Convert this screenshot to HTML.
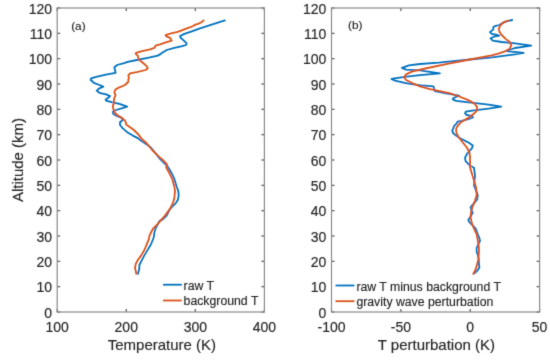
<!DOCTYPE html>
<html><head><meta charset="utf-8"><style>
html,body{margin:0;padding:0;background:#fff;}
body{width:550px;height:360px;overflow:hidden;}
svg{display:block;font-family:"Liberation Sans",Arial,sans-serif;}
text{stroke:#262626;stroke-width:0.15px;}
</style></head><body>
<svg width="550" height="360" viewBox="0 0 550 360">
<defs><filter id="bl" x="0" y="0" width="550" height="360" filterUnits="userSpaceOnUse"><feConvolveMatrix order="3" kernelMatrix="0.0133 0.0888 0.0133 0.0888 0.5917 0.0888 0.0133 0.0888 0.0133" edgeMode="duplicate" preserveAlpha="false"/></filter></defs>
<rect width="550" height="360" fill="#fff"/>
<g filter="url(#bl)"><g stroke="#8a8a8a" stroke-width="1.2" fill="none"><line x1="57.20" y1="312.00" x2="60.20" y2="312.00" stroke="#555555"/><line x1="264.40" y1="312.00" x2="261.40" y2="312.00" stroke="#555555"/><line x1="57.20" y1="286.67" x2="60.20" y2="286.67" stroke="#555555"/><line x1="264.40" y1="286.67" x2="261.40" y2="286.67" stroke="#555555"/><line x1="57.20" y1="261.33" x2="60.20" y2="261.33" stroke="#555555"/><line x1="264.40" y1="261.33" x2="261.40" y2="261.33" stroke="#555555"/><line x1="57.20" y1="236.00" x2="60.20" y2="236.00" stroke="#555555"/><line x1="264.40" y1="236.00" x2="261.40" y2="236.00" stroke="#555555"/><line x1="57.20" y1="210.67" x2="60.20" y2="210.67" stroke="#555555"/><line x1="264.40" y1="210.67" x2="261.40" y2="210.67" stroke="#555555"/><line x1="57.20" y1="185.33" x2="60.20" y2="185.33" stroke="#555555"/><line x1="264.40" y1="185.33" x2="261.40" y2="185.33" stroke="#555555"/><line x1="57.20" y1="160.00" x2="60.20" y2="160.00" stroke="#555555"/><line x1="264.40" y1="160.00" x2="261.40" y2="160.00" stroke="#555555"/><line x1="57.20" y1="134.67" x2="60.20" y2="134.67" stroke="#555555"/><line x1="264.40" y1="134.67" x2="261.40" y2="134.67" stroke="#555555"/><line x1="57.20" y1="109.33" x2="60.20" y2="109.33" stroke="#555555"/><line x1="264.40" y1="109.33" x2="261.40" y2="109.33" stroke="#555555"/><line x1="57.20" y1="84.00" x2="60.20" y2="84.00" stroke="#555555"/><line x1="264.40" y1="84.00" x2="261.40" y2="84.00" stroke="#555555"/><line x1="57.20" y1="58.67" x2="60.20" y2="58.67" stroke="#555555"/><line x1="264.40" y1="58.67" x2="261.40" y2="58.67" stroke="#555555"/><line x1="57.20" y1="33.33" x2="60.20" y2="33.33" stroke="#555555"/><line x1="264.40" y1="33.33" x2="261.40" y2="33.33" stroke="#555555"/><line x1="57.20" y1="8.00" x2="60.20" y2="8.00" stroke="#555555"/><line x1="264.40" y1="8.00" x2="261.40" y2="8.00" stroke="#555555"/><line x1="57.20" y1="312.00" x2="57.20" y2="309.00" stroke="#555555"/><line x1="57.20" y1="8.00" x2="57.20" y2="11.00" stroke="#555555"/><line x1="126.27" y1="312.00" x2="126.27" y2="309.00" stroke="#555555"/><line x1="126.27" y1="8.00" x2="126.27" y2="11.00" stroke="#555555"/><line x1="195.33" y1="312.00" x2="195.33" y2="309.00" stroke="#555555"/><line x1="195.33" y1="8.00" x2="195.33" y2="11.00" stroke="#555555"/><line x1="264.40" y1="312.00" x2="264.40" y2="309.00" stroke="#555555"/><line x1="264.40" y1="8.00" x2="264.40" y2="11.00" stroke="#555555"/><rect x="57.20" y="8.00" width="207.20" height="304.00" fill="none"/></g><g font-size="14" fill="#262626"><text x="52.10" y="317.70" text-anchor="end">0</text><text x="52.10" y="292.37" text-anchor="end">10</text><text x="52.10" y="267.03" text-anchor="end">20</text><text x="52.10" y="241.70" text-anchor="end">30</text><text x="52.10" y="216.37" text-anchor="end">40</text><text x="52.10" y="191.03" text-anchor="end">50</text><text x="52.10" y="165.70" text-anchor="end">60</text><text x="52.10" y="140.37" text-anchor="end">70</text><text x="52.10" y="115.03" text-anchor="end">80</text><text x="52.10" y="89.70" text-anchor="end">90</text><text x="52.10" y="64.37" text-anchor="end">100</text><text x="52.10" y="39.03" text-anchor="end">110</text><text x="52.10" y="13.70" text-anchor="end">120</text><text x="57.20" y="331.60" text-anchor="middle">100</text><text x="126.27" y="331.60" text-anchor="middle">200</text><text x="195.33" y="331.60" text-anchor="middle">300</text><text x="264.40" y="331.60" text-anchor="middle">400</text></g><g stroke="#8a8a8a" stroke-width="1.2" fill="none"><line x1="331.50" y1="312.00" x2="334.50" y2="312.00" stroke="#555555"/><line x1="539.60" y1="312.00" x2="536.60" y2="312.00" stroke="#555555"/><line x1="539.60" y1="286.67" x2="536.60" y2="286.67" stroke="#555555"/><line x1="331.50" y1="261.33" x2="334.50" y2="261.33" stroke="#555555"/><line x1="539.60" y1="261.33" x2="536.60" y2="261.33" stroke="#555555"/><line x1="331.50" y1="236.00" x2="334.50" y2="236.00" stroke="#555555"/><line x1="539.60" y1="236.00" x2="536.60" y2="236.00" stroke="#555555"/><line x1="331.50" y1="210.67" x2="334.50" y2="210.67" stroke="#555555"/><line x1="539.60" y1="210.67" x2="536.60" y2="210.67" stroke="#555555"/><line x1="331.50" y1="185.33" x2="334.50" y2="185.33" stroke="#555555"/><line x1="539.60" y1="185.33" x2="536.60" y2="185.33" stroke="#555555"/><line x1="331.50" y1="160.00" x2="334.50" y2="160.00" stroke="#555555"/><line x1="539.60" y1="160.00" x2="536.60" y2="160.00" stroke="#555555"/><line x1="331.50" y1="134.67" x2="334.50" y2="134.67" stroke="#555555"/><line x1="539.60" y1="134.67" x2="536.60" y2="134.67" stroke="#555555"/><line x1="331.50" y1="109.33" x2="334.50" y2="109.33" stroke="#555555"/><line x1="539.60" y1="109.33" x2="536.60" y2="109.33" stroke="#555555"/><line x1="331.50" y1="84.00" x2="334.50" y2="84.00" stroke="#555555"/><line x1="539.60" y1="84.00" x2="536.60" y2="84.00" stroke="#555555"/><line x1="331.50" y1="58.67" x2="334.50" y2="58.67" stroke="#555555"/><line x1="539.60" y1="58.67" x2="536.60" y2="58.67" stroke="#555555"/><line x1="331.50" y1="33.33" x2="334.50" y2="33.33" stroke="#555555"/><line x1="539.60" y1="33.33" x2="536.60" y2="33.33" stroke="#555555"/><line x1="331.50" y1="8.00" x2="334.50" y2="8.00" stroke="#555555"/><line x1="539.60" y1="8.00" x2="536.60" y2="8.00" stroke="#555555"/><line x1="331.50" y1="312.00" x2="331.50" y2="309.00" stroke="#555555"/><line x1="331.50" y1="8.00" x2="331.50" y2="11.00" stroke="#555555"/><line x1="400.87" y1="312.00" x2="400.87" y2="309.00" stroke="#555555"/><line x1="400.87" y1="8.00" x2="400.87" y2="11.00" stroke="#555555"/><line x1="470.23" y1="312.00" x2="470.23" y2="309.00" stroke="#555555"/><line x1="470.23" y1="8.00" x2="470.23" y2="11.00" stroke="#555555"/><line x1="539.60" y1="312.00" x2="539.60" y2="309.00" stroke="#555555"/><line x1="539.60" y1="8.00" x2="539.60" y2="11.00" stroke="#555555"/><rect x="331.50" y="8.00" width="208.10" height="304.00" fill="none"/></g><g font-size="14" fill="#262626"><text x="326.40" y="317.70" text-anchor="end">0</text><text x="326.40" y="292.37" text-anchor="end">10</text><text x="326.40" y="267.03" text-anchor="end">20</text><text x="326.40" y="241.70" text-anchor="end">30</text><text x="326.40" y="216.37" text-anchor="end">40</text><text x="326.40" y="191.03" text-anchor="end">50</text><text x="326.40" y="165.70" text-anchor="end">60</text><text x="326.40" y="140.37" text-anchor="end">70</text><text x="326.40" y="115.03" text-anchor="end">80</text><text x="326.40" y="89.70" text-anchor="end">90</text><text x="326.40" y="64.37" text-anchor="end">100</text><text x="326.40" y="39.03" text-anchor="end">110</text><text x="326.40" y="13.70" text-anchor="end">120</text><text x="331.50" y="331.60" text-anchor="middle">-100</text><text x="400.87" y="331.60" text-anchor="middle">-50</text><text x="470.23" y="331.60" text-anchor="middle">0</text><text x="539.60" y="331.60" text-anchor="middle">50</text></g><g fill="none" stroke-width="1.8" stroke-linejoin="round" stroke-linecap="round"><polyline stroke="#0072BD" points="224.9,20.4 200.0,28.3 191.1,31.7 184.4,33.9 180.0,36.1 180.6,37.8 183.9,40.6 186.7,43.3 186.1,45.0 182.2,46.1 174.4,47.8 166.7,50.0 162.2,52.8 160.0,54.4 157.8,55.6 147.8,57.8 136.7,60.0 126.7,62.2 125.0,62.8 117.2,65.0 114.4,67.2 115.0,70.0 115.6,72.8 107.2,74.4 97.2,76.7 91.1,78.3 90.6,80.0 93.9,82.8 99.4,85.0 103.3,86.7 99.4,88.3 96.7,90.6 99.4,92.8 106.1,94.4 110.0,96.1 108.3,97.8 105.6,99.4 106.1,100.6 111.7,102.2 119.4,103.9 127.2,106.7 121.7,108.3 116.1,110.0 112.8,111.7 113.3,113.9 116.1,115.6 121.7,117.8 122.8,120.0 120.0,122.2 120.0,125.0 122.8,128.3 127.2,132.2 132.8,135.6 138.3,138.4 139.8,139.8 146.7,144.4 151.1,147.8 155.6,153.3 160.0,158.9 164.4,163.3 167.8,166.7 171.1,172.2 173.9,177.8 176.7,186.7 178.3,191.1 178.7,195.6 177.8,200.0 175.6,203.3 172.2,206.7 169.4,210.0 166.7,215.6 162.8,219.4 159.4,221.1 157.8,224.4 155.6,228.3 154.4,232.2 153.9,236.7 152.8,240.0 150.6,245.0 147.2,250.6 143.9,256.1 141.1,261.7 139.4,265.0 139.2,269.4 138.3,272.2 137.8,273.9"/><polyline stroke="#D95319" points="203.6,20.4 201.5,22.2 198.0,23.9 195.3,24.6 193.2,26.0 191.1,26.9 188.3,27.8 184.2,29.4 180.5,30.8 176.7,32.2 171.1,33.3 165.6,35.0 166.1,36.1 170.0,37.8 171.7,40.6 166.7,42.2 160.0,44.4 155.6,45.6 154.4,47.8 150.0,49.4 142.2,51.1 136.1,52.8 135.6,53.9 137.8,55.6 138.3,57.8 139.4,60.0 142.2,62.2 146.7,66.1 147.8,68.3 145.6,70.0 136.7,72.2 130.0,73.3 128.3,75.6 128.9,77.8 128.3,80.0 128.5,81.5 125.0,85.0 118.3,87.8 115.0,90.0 114.4,92.8 115.6,95.0 114.4,97.8 113.9,100.0 113.9,103.3 112.8,106.1 113.3,108.9 114.4,112.2 117.2,115.0 121.7,117.8 125.0,120.6 126.1,122.8 126.1,124.4 129.4,126.7 133.9,130.0 138.3,134.4 141.7,138.9 146.7,143.3 152.2,150.0 157.8,155.6 162.2,159.4 166.7,163.9 167.2,165.6 166.1,167.2 168.9,172.2 172.2,178.9 174.4,186.7 175.0,191.1 174.4,197.8 173.3,202.2 170.0,208.9 165.0,215.6 160.6,220.6 157.8,223.9 153.3,228.3 151.1,232.2 149.4,236.1 148.9,238.9 146.7,244.4 144.4,250.0 141.1,255.6 137.8,260.0 135.6,264.4 135.0,268.3 136.1,272.2 136.1,273.7"/><polyline stroke="#0072BD" points="512.2,20.0 507.2,21.1 502.8,22.8 499.4,25.0 495.0,26.1 493.3,27.2 493.3,29.4 490.0,32.2 491.7,33.9 497.2,35.0 499.4,35.6 493.9,36.7 490.6,38.3 492.8,40.6 501.7,42.0 515.0,43.3 531.2,45.6 515.0,48.0 506.5,51.0 523.7,52.9 515.0,54.3 490.0,57.7 470.0,59.5 438.9,62.6 420.0,64.0 408.9,65.4 401.9,67.8 406.1,69.6 420.0,70.3 439.9,73.3 420.0,75.1 404.7,76.9 391.5,78.9 395.0,80.7 404.7,82.8 411.7,84.2 421.4,85.4 433.4,86.3 434.9,91.2 444.6,93.1 459.2,95.6 453.3,98.0 452.8,99.4 456.2,100.9 468.9,102.4 488.6,104.7 501.2,106.7 488.6,108.6 474.2,110.4 465.8,111.7 465.0,113.3 466.7,115.0 472.5,116.2 472.9,117.5 468.3,119.2 461.7,120.8 457.5,121.7 456.7,123.3 454.2,125.8 453.3,128.3 452.2,130.6 453.3,133.3 456.7,136.1 462.2,139.4 468.9,142.8 472.8,145.6 472.2,147.8 469.4,151.1 466.7,154.4 465.0,157.8 465.6,161.1 468.3,163.9 470.1,165.8 474.0,167.8 475.0,175.6 474.0,185.3 477.8,195.0 477.2,199.4 473.9,203.3 470.6,207.2 471.1,209.4 472.8,212.8 471.1,215.6 468.3,220.0 469.4,222.2 472.8,225.6 475.6,228.3 477.8,234.4 479.4,238.3 480.0,241.1 478.3,244.4 476.7,247.8 476.7,251.7 477.8,255.0 478.9,259.4 478.9,264.4 479.4,267.2 477.8,270.0 475.0,272.8 474.4,273.3"/><polyline stroke="#D95319" points="508.3,20.6 503.9,22.2 500.6,25.0 498.9,28.3 499.4,31.7 501.7,35.0 505.6,38.9 509.7,42.0 511.3,45.3 509.7,48.7 505.0,51.3 498.3,53.7 491.7,55.3 470.0,59.5 448.6,63.6 425.3,68.5 411.7,71.6 406.1,74.4 404.0,77.2 406.1,80.0 411.7,82.8 420.0,86.3 430.0,89.2 439.7,91.2 449.4,93.1 459.2,96.5 468.9,100.4 474.7,103.8 477.2,107.2 476.7,111.1 472.8,114.5 469.2,117.4 461.7,121.7 458.3,125.0 456.2,128.3 456.2,131.5 456.7,133.5 458.3,136.7 462.2,141.7 466.7,147.2 469.4,152.2 470.0,157.2 470.1,165.0 470.1,167.8 473.1,177.5 476.0,187.2 476.7,195.0 475.0,200.6 472.8,206.1 471.1,211.7 470.6,217.2 471.7,222.8 473.9,228.3 476.7,234.4 477.8,240.6 478.9,247.2 478.9,252.8 478.3,259.4 476.7,266.1 475.0,270.6 473.3,273.9"/></g><g stroke-width="1.8"><line x1="163" y1="284.7" x2="181.8" y2="284.7" stroke="#0072BD"/><line x1="163" y1="300.5" x2="181.8" y2="300.5" stroke="#D95319"/><line x1="335.5" y1="285.5" x2="354.5" y2="285.5" stroke="#0072BD"/><line x1="335.5" y1="301.2" x2="354.5" y2="301.2" stroke="#D95319"/></g><g font-size="12.27" fill="#262626"><text x="183.6" y="289.8">raw T</text><text x="183.6" y="304.9">background T</text><text x="356.4" y="290.6">raw T minus background T</text><text x="356.4" y="306.1">gravity wave perturbation</text></g><g font-size="11.8" fill="#262626"><text x="71.2" y="29.6">(a)</text><text x="348" y="28.9">(b)</text></g><g font-size="15" fill="#262626" text-anchor="middle"><text x="161.95" y="349.8">Temperature (K)</text><text x="436.4" y="349.8">T perturbation (K)</text><text transform="translate(22.9 160) rotate(-90)">Altitude (km)</text></g></g>
</svg></body></html>
